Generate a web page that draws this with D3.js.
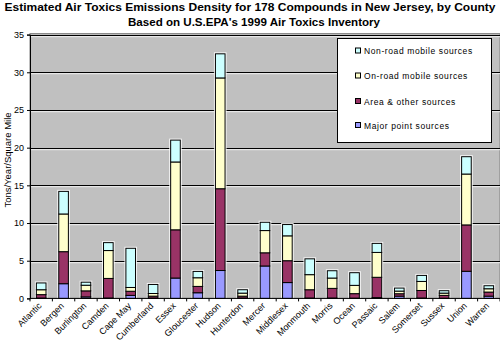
<!DOCTYPE html>
<html>
<head>
<meta charset="utf-8">
<script src="https://cdn.jsdelivr.net/npm/d3@7"></script>
<style>
  html, body { margin: 0; padding: 0; background: #ffffff; }
  svg { display: block; }
  text { font-family: "Liberation Sans", Arial, sans-serif; fill: #000; }
</style>
</head>
<body>
<div id="chart"></div>
<script>
const counties = ["Atlantic","Bergen","Burlington","Camden","Cape May","Cumberland","Essex","Gloucester","Hudson","Hunterdon","Mercer","Middlesex","Monmouth","Morris","Ocean","Passaic","Salem","Somerset","Sussex","Union","Warren"];
const majorPoint = [0.05,1.95,0.2,0.05,0.4,0.05,2.7,0.75,3.7,0.05,4.3,2.1,0.05,0.05,0.03,0.1,0.3,0.05,0.02,3.6,0.3];
const areaOther  = [0.45,4.25,0.8,2.6,0.55,0.25,6.4,0.84,10.85,0.25,1.75,2.9,1.1,1.28,0.6,2.7,0.32,1.0,0.38,6.15,0.54];
const onRoad     = [0.65,5.0,0.75,3.7,0.5,0.35,9.0,1.15,14.7,0.4,2.95,3.3,2.0,1.37,1.1,3.3,0.35,1.2,0.3,6.75,0.44];
const nonRoad    = [0.9,3.0,0.4,1.05,5.2,1.2,2.9,0.84,3.2,0.45,1.1,1.5,2.1,0.97,1.68,1.2,0.4,0.8,0.32,2.3,0.4];
const seriesNames = ["Major point sources","Area & other sources","On-road mobile sources","Non-road mobile sources"];
const seriesColors = ["#9999FF","#993366","#FFFFCC","#CCFFFF"];
const yTicks = [0,5,10,15,20,25,30,35];
const titleLines = ["Estimated Air Toxics Emissions Density for 178 Compounds in New Jersey, by County","Based on U.S.EPA's 1999 Air Toxics Inventory"];
const yTitle = "Tons/Year/Square Mile";

const W = 500, H = 345;
const plot = {left: 30, right: 500, top: 34.6, bottom: 298.4};

const svg = d3.select("#chart").append("svg").attr("width", W).attr("height", H);
svg.append("rect").attr("width", W).attr("height", H).attr("fill", "#fff");

const keys = ["major","area","onroad","nonroad"];
const rows = counties.map((c, i) => ({county: c, major: majorPoint[i], area: areaOther[i], onroad: onRoad[i], nonroad: nonRoad[i]}));
const stacked = d3.stack().keys(keys)(rows);

const x = d3.scaleBand().domain(counties).range([plot.left, plot.right]).paddingInner(0.57).paddingOuter(0.285);
const y = d3.scaleLinear().domain([0, 35]).range([plot.bottom, plot.top]);

// plot area
svg.append("rect").attr("x", plot.left).attr("y", plot.top - 1).attr("width", plot.right - plot.left).attr("height", plot.bottom - plot.top + 1)
  .attr("fill", "#C0C0C0").attr("stroke", "#808080").attr("stroke-width", 1);

// gridlines
const grid = svg.append("g");
yTicks.filter(t => t > 0).forEach(t => {
  const yy = Math.round(y(t)) + 0.5;
  grid.append("line").attr("x1", plot.left).attr("x2", plot.right).attr("y1", yy).attr("y2", yy).attr("stroke", "#000").attr("stroke-width", 1.2);
  grid.append("line").attr("x1", plot.left).attr("x2", plot.right).attr("y1", yy + 1.2).attr("y2", yy + 1.2).attr("stroke", "#f0f0f0").attr("stroke-width", 1);
});

// bar halos
const totals = rows.map(r => r.major + r.area + r.onroad + r.nonroad);
svg.append("g").selectAll("rect").data(rows).join("rect")
  .attr("x", d => x(d.county) - 1.5)
  .attr("y", (d, i) => y(totals[i]) - 1.5)
  .attr("width", x.bandwidth() + 3)
  .attr("height", (d, i) => y(0) - y(totals[i]) + 1.5)
  .attr("fill", "#ffffff").attr("opacity", 0.85);

// bars
svg.append("g").selectAll("g").data(stacked).join("g")
  .attr("fill", (d, i) => seriesColors[i])
  .selectAll("rect").data(d => d).join("rect")
  .attr("x", d => x(d.data.county))
  .attr("y", d => y(d[1]))
  .attr("width", x.bandwidth())
  .attr("height", d => Math.max(0, y(d[0]) - y(d[1])))
  .attr("stroke", "#000").attr("stroke-width", 1);

// axes
const yAxis = d3.axisLeft(y).tickValues(yTicks).tickSize(3).tickPadding(3);
const gy = svg.append("g").attr("transform", `translate(${plot.left},0)`).call(yAxis);
gy.select(".domain").attr("stroke", "#000");
gy.selectAll("text").attr("font-size", 9).attr("font-family", "Liberation Sans, Arial, sans-serif");

const gx = svg.append("g").attr("transform", `translate(0,${plot.bottom})`);
gx.append("line").attr("x1", plot.left).attr("x2", plot.right).attr("y1", 0).attr("y2", 0).attr("stroke", "#000");
const step = x.step();
d3.range(counties.length + 1).forEach(k => {
  const xx = plot.left + k * step;
  gx.append("line").attr("x1", xx).attr("x2", xx).attr("y1", 0).attr("y2", 3).attr("stroke", "#000");
});
gx.selectAll("text.xl").data(counties).join("text").attr("class", "xl")
  .attr("transform", d => `translate(${x(d) + x.bandwidth() / 2 + 1},${8}) rotate(-45)`)
  .attr("text-anchor", "end").attr("font-size", 9).text(d => d);

// titles
svg.append("text").attr("x", 250).attr("y", 11).attr("text-anchor", "middle").attr("font-weight", "bold")
  .attr("font-size", 11.5).attr("textLength", 491).attr("lengthAdjust", "spacingAndGlyphs").text(titleLines[0]);
svg.append("text").attr("x", 254).attr("y", 26).attr("text-anchor", "middle").attr("font-weight", "bold")
  .attr("font-size", 11.5).attr("textLength", 252).attr("lengthAdjust", "spacingAndGlyphs").text(titleLines[1]);

svg.append("text").attr("transform", "translate(11,160) rotate(-90)").attr("text-anchor", "middle")
  .attr("font-size", 9.5).text(yTitle);

// legend
const lg = svg.append("g");
lg.append("rect").attr("x", 337.5).attr("y", 38.5).attr("width", 154).attr("height", 104).attr("fill", "#fff").attr("stroke", "#000");
const legendOrder = [3, 2, 1, 0];
const legendY = [51, 76, 101.5, 125.5];
legendOrder.forEach((si, j) => {
  lg.append("rect").attr("x", 355.5).attr("y", legendY[j] - 3).attr("width", 5).attr("height", 5)
    .attr("fill", seriesColors[si]).attr("stroke", "#000");
  lg.append("text").attr("x", 364).attr("y", legendY[j] + 3).attr("font-size", 8.5).attr("letter-spacing", 0.6)
    .text(seriesNames[si]);
});
</script>
</body>
</html>
